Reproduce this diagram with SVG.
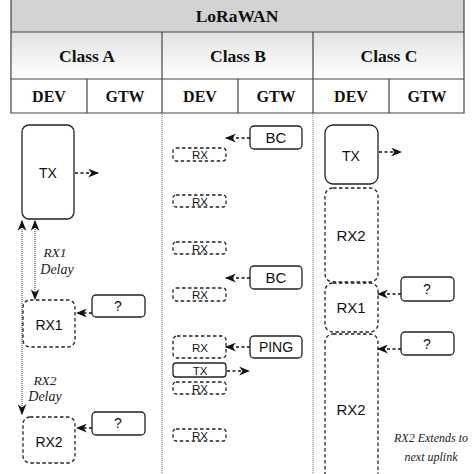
<svg xmlns="http://www.w3.org/2000/svg" width="474" height="474" viewBox="0 0 474 474">
<defs>
<linearGradient id="g2" x1="0" y1="0" x2="0" y2="1">
<stop offset="0" stop-color="#e2e2e2"/>
<stop offset="1" stop-color="#ffffff"/>
</linearGradient>
<marker id="ah" viewBox="0 0 10 8" refX="9" refY="4" markerWidth="11" markerHeight="9" markerUnits="userSpaceOnUse" orient="auto-start-reverse">
<path d="M0,0 L10,4 L0,8 L3,4 z" fill="#111"/>
</marker>
</defs>
<style>
.hdr{font-family:"Liberation Serif","Times New Roman",serif;font-weight:bold;fill:#111;text-anchor:middle}
.grid{stroke:#444;stroke-width:1.2;fill:none}
.solid{fill:#fff;stroke:#222;stroke-width:1.3}
.dash{fill:#fff;stroke:#222;stroke-width:1.3;stroke-dasharray:3.5,2.5}
.lbl{font-family:"Liberation Sans",Arial,sans-serif;fill:#111;text-anchor:middle}
.it{font-family:"Liberation Serif","Times New Roman",serif;font-style:italic;fill:#222;text-anchor:middle}
.con{stroke:#111;stroke-width:1.3;stroke-dasharray:3,2.5;fill:none;marker-end:url(#ah)}
.dot{stroke:#333;stroke-width:1;stroke-dasharray:1,1;fill:none}
.sep{stroke:#777;stroke-width:1;stroke-dasharray:1,1;fill:none}
</style>
<g id="header">
<rect x="11" y="0" width="453" height="32" fill="#d3d3d3"/>
<rect x="11" y="32" width="453" height="47" fill="url(#g2)"/>
<rect x="11" y="79" width="453" height="34" fill="#fff"/>
<path class="grid" d="M11,0 V113 H464 V0 M11,32 H464 M11,79 H464 M162,32 V113 M313,32 V113 M87,79 V113 M238,79 V113 M389,79 V113"/>
<text class="hdr" x="237" y="22" font-size="17.5">LoRaWAN</text>
<text class="hdr" x="87" y="62" font-size="17.5">Class A</text>
<text class="hdr" x="238" y="62" font-size="17.5">Class B</text>
<text class="hdr" x="389" y="62" font-size="17.5">Class C</text>
<text class="hdr" x="49" y="102" font-size="16">DEV</text>
<text class="hdr" x="125" y="102" font-size="16">GTW</text>
<text class="hdr" x="200" y="102" font-size="16">DEV</text>
<text class="hdr" x="276" y="102" font-size="16">GTW</text>
<text class="hdr" x="351" y="102" font-size="16">DEV</text>
<text class="hdr" x="427" y="102" font-size="16">GTW</text>
</g>
<g id="separators">
<line class="sep" x1="162" y1="114" x2="162" y2="474"/>
<line class="sep" x1="313" y1="114" x2="313" y2="474"/>
</g>
<g id="classA-tx"><rect class="solid" x="22" y="125" width="52" height="94" rx="7"/><text class="lbl" x="48" y="178" font-size="14">TX</text></g>
<g id="classA-rx1"><rect class="dash" x="23" y="300" width="52" height="47" rx="7"/><text class="lbl" x="49" y="330" font-size="14">RX1</text></g>
<g id="classA-rx2"><rect class="dash" x="23" y="417" width="52" height="46" rx="7"/><text class="lbl" x="49" y="447" font-size="14">RX2</text></g>
<g id="classA-q1"><rect class="solid" x="92" y="295" width="53" height="22" rx="4"/><text class="lbl" x="118" y="311" font-size="14">?</text></g>
<g id="classA-q2"><rect class="solid" x="92" y="412" width="53" height="23" rx="4"/><text class="lbl" x="118" y="428" font-size="14">?</text></g>
<g id="classA-labels">
<text class="it" x="55" y="257" font-size="13.5">RX1</text>
<text class="it" x="57" y="274" font-size="14">Delay</text>
<text class="it" x="45" y="385" font-size="13.5">RX2</text>
<text class="it" x="45" y="401" font-size="14">Delay</text>
</g>
<g id="classB-bc1"><rect class="solid" x="250" y="126" width="52" height="23" rx="4"/><text class="lbl" x="276" y="143" font-size="15">BC</text></g>
<g id="classB-bc2"><rect class="solid" x="250" y="266" width="52" height="23" rx="4"/><text class="lbl" x="276" y="283" font-size="15">BC</text></g>
<g id="classB-ping"><rect class="solid" x="250" y="336" width="52" height="22" rx="4"/><text class="lbl" x="276" y="352" font-size="14">PING</text></g>
<g id="classB-rx1"><rect class="dash" x="173" y="148" width="53" height="13" rx="3"/><text class="lbl" x="200" y="159" font-size="11.5">RX</text></g>
<g id="classB-rx2"><rect class="dash" x="173" y="195" width="53" height="12" rx="3"/><text class="lbl" x="200" y="206" font-size="11.5">RX</text></g>
<g id="classB-rx3"><rect class="dash" x="173" y="242" width="53" height="12" rx="3"/><text class="lbl" x="200" y="253" font-size="11.5">RX</text></g>
<g id="classB-rx4"><rect class="dash" x="173" y="288" width="53" height="13" rx="3"/><text class="lbl" x="200" y="299" font-size="11.5">RX</text></g>
<g id="classB-rx5"><rect class="dash" x="173" y="336" width="53" height="22" rx="4"/><text class="lbl" x="200" y="352" font-size="11.5">RX</text></g>
<g id="classB-tx"><rect class="solid" x="173" y="363" width="53" height="14" rx="3"/><text class="lbl" x="200" y="375" font-size="11.5">TX</text></g>
<g id="classB-rx6"><rect class="dash" x="173" y="382" width="53" height="12" rx="3"/><text class="lbl" x="200" y="393" font-size="11.5">RX</text></g>
<g id="classB-rx7"><rect class="dash" x="173" y="429" width="53" height="12" rx="3"/><text class="lbl" x="200" y="440" font-size="11.5">RX</text></g>
<g id="classC-tx"><rect class="solid" x="325" y="125" width="53" height="59" rx="8"/><text class="lbl" x="351" y="161" font-size="14">TX</text></g>
<g id="classC-rx2a"><rect class="dash" x="325" y="188" width="53" height="94" rx="8"/><text class="lbl" x="351" y="241" font-size="15">RX2</text></g>
<g id="classC-rx1"><rect class="dash" x="325" y="283" width="53" height="49" rx="8"/><text class="lbl" x="351" y="313" font-size="15">RX1</text></g>
<g id="classC-rx2b"><rect class="dash" x="325" y="334" width="53" height="150" rx="8"/><text class="lbl" x="351" y="415" font-size="15">RX2</text></g>
<g id="classC-q1"><rect class="solid" x="401" y="277" width="53" height="24" rx="4"/><text class="lbl" x="427" y="294" font-size="14">?</text></g>
<g id="classC-q2"><rect class="solid" x="401" y="332" width="53" height="23" rx="4"/><text class="lbl" x="427" y="349" font-size="14">?</text></g>
<g id="classC-label">
<text class="it" x="431" y="442" font-size="12">RX2 Extends to</text>
<text class="it" x="431" y="461" font-size="12">next uplink</text>
</g>
<g id="connectors">
<line class="con" x1="75" y1="173" x2="98" y2="173"/>
<line class="con" x1="92" y1="313" x2="77" y2="313"/>
<line class="con" x1="92" y1="428" x2="77" y2="428"/>
<line class="dot" x1="22" y1="221" x2="22" y2="414" marker-start="url(#ah)" marker-end="url(#ah)"/>
<line class="dot" x1="35" y1="221" x2="35" y2="299" marker-start="url(#ah)" marker-end="url(#ah)"/>
<line class="con" x1="250" y1="138" x2="226" y2="138"/>
<line class="con" x1="250" y1="278" x2="226" y2="278"/>
<line class="con" x1="250" y1="347" x2="226" y2="347"/>
<line class="con" x1="227" y1="371" x2="249" y2="371"/>
<line class="con" x1="379" y1="152" x2="401" y2="152"/>
<line class="con" x1="401" y1="294" x2="378" y2="294"/>
<line class="con" x1="401" y1="349" x2="378" y2="349"/>
</g>
</svg>
